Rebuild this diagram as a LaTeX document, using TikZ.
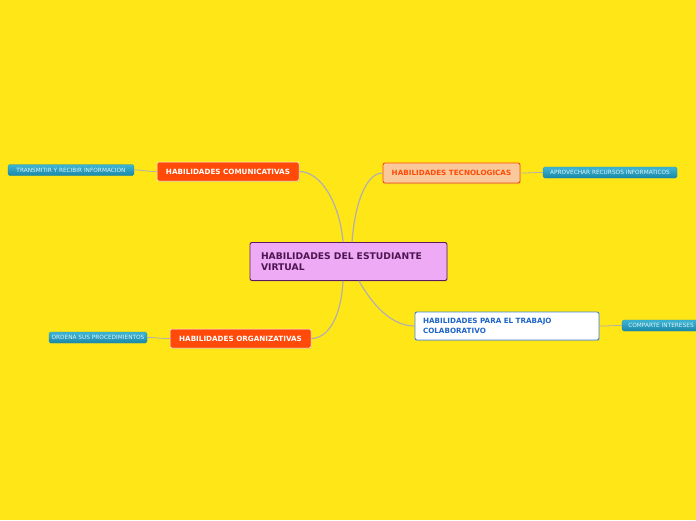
\documentclass[tikz,border=0pt]{standalone}
\usepackage{fontspec}
\setmainfont{DejaVu Sans}
\usetikzlibrary{shadows}

\definecolor{fondo}{HTML}{FFE617}
\definecolor{rama}{HTML}{B2B0AE}
\definecolor{naranja}{HTML}{FF4A0A}
\definecolor{durazno}{HTML}{F9C99C}
\definecolor{lila}{HTML}{EFAAF6}
\definecolor{morado}{HTML}{5B1A5F}
\definecolor{azul}{HTML}{3C86D8}
\definecolor{azultxt}{HTML}{1E64C8}
\definecolor{celeste}{HTML}{3DB5D5}
\definecolor{petroleo}{HTML}{1B88A8}

\begin{document}
\begin{tikzpicture}[x=1pt,y=-1pt,
    caja/.style={rounded corners=2pt, inner sep=0pt, font=\bfseries\fontsize{7.2}{8}\selectfont,
                 drop shadow={shadow xshift=0.6pt, shadow yshift=-1pt, opacity=0.25}},
    hoja/.style={rounded corners=1.5pt, inner sep=0pt, top color=celeste, bottom color=petroleo,
                 draw=petroleo, line width=0.3pt, text=white!85!celeste,
                 font=\fontsize{5.8}{6}\selectfont, minimum height=11pt},
    enlace/.style={draw=rama, line width=1.2pt}]

    % Draw background
    \fill[fondo] (0,0) rectangle (696,520);
    \useasboundingbox (0,0) rectangle (696,520);

    % Draw main nodes
    \node[caja, fill=lila, draw=morado, line width=0.9pt, text=morado!85!black,
          minimum width=197pt, minimum height=38pt, text width=175pt, align=left,
          font=\bfseries\fontsize{9.2}{11}\selectfont] (est) at (348.5,261.5)
          {HABILIDADES DEL ESTUDIANTE\\VIRTUAL};

    \node[caja, fill=naranja, draw=white, line width=0.5pt, text=white,
          minimum width=142pt, minimum height=19pt] (com) at (228,171.5) {HABILIDADES COMUNICATIVAS};

    \node[caja, fill=durazno, draw=naranja, line width=0.9pt, text=naranja,
          minimum width=137pt, minimum height=20pt] (tec) at (451.5,173) {HABILIDADES TECNOLOGICAS};

    \node[caja, fill=naranja, draw=white, line width=0.5pt, text=white,
          minimum width=141pt, minimum height=19pt] (org) at (240.5,338.5) {HABILIDADES ORGANIZATIVAS};

    \node[caja, fill=white, draw=azul, line width=0.9pt, text=azultxt,
          minimum width=184pt, minimum height=28pt, text width=168pt, align=left,
          font=\bfseries\fontsize{7.2}{10}\selectfont] (col) at (507,326)
          {HABILIDADES PARA EL TRABAJO\\COLABORATIVO};

    % Draw leaf nodes
    \node[hoja, minimum width=126pt] (tra) at (71,170) {TRANSMITIR Y RECIBIR INFORMACION};
    \node[hoja, minimum width=134pt] (apr) at (610,172.5) {APROVECHAR RECURSOS INFORMATICOS};
    \node[hoja, minimum width=98pt] (ord) at (98,337.5) {ORDENA SUS PROCEDIMIENTOS};
    \node[hoja, minimum width=78pt] (cmp) at (661,325.5) {COMPARTE INTERESES};

    % Draw branches from the centre
    \draw[enlace] (com.east) .. controls +(22,0) and +(-3,-38) .. ([xshift=-5.5pt]est.north);
    \draw[enlace] (tec.west) .. controls +(-16,0) and +(3,-40) .. ([xshift=3.5pt]est.north);
    \draw[enlace] (org.east) .. controls +(16,0) and +(-2,38) .. ([xshift=-5.5pt]est.south);
    \draw[enlace] (col.west) .. controls +(-28,0) and +(8,14) .. ([xshift=10.5pt]est.south);

    % Draw branches to the leaves
    \draw[enlace, line width=0.8pt] (com.west) .. controls +(-12,0) and +(10,0) .. (tra.east);
    \draw[enlace, line width=0.8pt] (tec.east) .. controls +(12,0) and +(-10,0) .. (apr.west);
    \draw[enlace, line width=0.8pt] (org.west) .. controls +(-12,0) and +(10,0) .. (ord.east);
    \draw[enlace, line width=0.8pt] (col.east) .. controls +(12,0) and +(-10,0) .. (cmp.west);

\end{tikzpicture}
\end{document}
